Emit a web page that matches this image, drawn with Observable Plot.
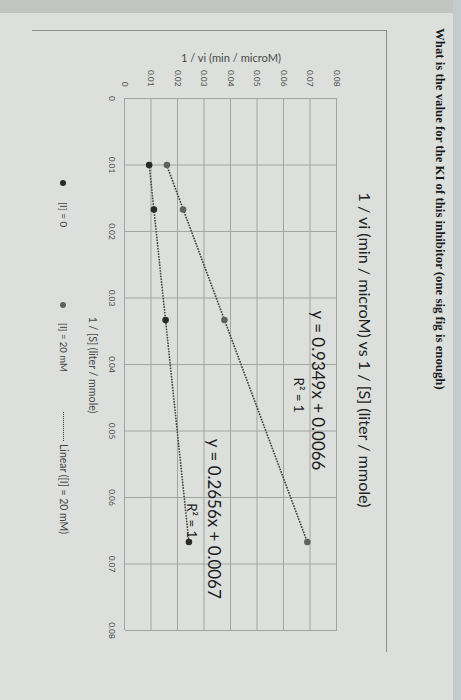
<!DOCTYPE html>
<html>
<head>
<meta charset="utf-8">
<script src="https://cdn.jsdelivr.net/npm/d3@7"></script>
<script src="https://cdn.jsdelivr.net/npm/@observablehq/plot@0.6"></script>
<style>
  html, body { margin: 0; padding: 0; width: 461px; height: 700px; overflow: hidden; background: #dcdfdc; }
  #page { position: absolute; left: 0; top: 0; width: 700px; height: 461px;
          transform-origin: 0 0; transform: translate(461px, 0) rotate(90deg);
          background: #dcdfdc; font-family: Lato, sans-serif; }
  .abs { position: absolute; white-space: nowrap; }
  #edgeL { left: 0; top: 0; width: 13px; height: 461px; background: #c2c4c2; }
  #edgeT { left: 0; top: 0; width: 700px; height: 8px; background: #c3cbcf; }
  #box { left: 30px; top: 74px; width: 621px; height: 354px; border-left: 1px solid #8f918f; border-top: 1px solid #8f918f; }
  #chart { left: 0; top: 0; }
</style>
</head>
<body>
<div id="page">
  <div id="edgeL" class="abs"></div>
  <div id="edgeT" class="abs"></div>
  <div id="box" class="abs"></div>
  <div id="chart" class="abs"></div>
  <div id="texts"></div>
</div>
<script>
// ---- data ----
const invS   = [0.01, 0.0167, 0.0333, 0.0667];          // 1/[S] (liter / mmole)
const invV0  = [0.0093, 0.0111, 0.0155, 0.0243];        // 1/vi, [I] = 0
const invV20 = [0.0160, 0.0221, 0.0377, 0.0690];        // 1/vi, [I] = 20 mM
const seriesNames  = ["[I] = 0", "[I] = 20 mM"];
const seriesColors = ["#2a2a2a", "#5f615f"];
const xTicks = [0, 0.01, 0.02, 0.03, 0.04, 0.05, 0.06, 0.07, 0.08];
const yTicks = [0, 0.01, 0.02, 0.03, 0.04, 0.05, 0.06, 0.07, 0.08];
const eqLabels = ["y = 0.9349x + 0.0066", "y = 0.2656x + 0.0067"];
const eqX = [0.0439, 0.0632];
const eqY = [0.0728, 0.0336];
const r2Labels = ["R\u00B2 = 1", "R\u00B2 = 1"];
const r2X = [0.0446, 0.0635];
const r2Y = [0.0657, 0.0253];
const legendLabels = ["[I] = 0", "[I] = 20 mM", "Linear ([I] = 20 mM)"];
const questionText = "What is the value for the KI of this inhibitor (one sig fig is enough)";
const chartTitle = "1 / vi (min / microM) vs 1 / [S] (liter / mmole)";
const xTitle = "1 / [S] (liter / mmole)";
const yTitle = "1 / vi (min / microM)";

const SANS = "Lato";
const fmt = d => d === 0 ? "0" : d.toFixed(2);

const rows = [];
invS.forEach((x, i) => rows.push({x, y: invV0[i], s: seriesNames[0]}));
invS.forEach((x, i) => rows.push({x, y: invV20[i], s: seriesNames[1]}));
const eqRows = eqLabels.map((t, i) => ({t, x: eqX[i], y: eqY[i]}));
const r2Rows = r2Labels.map((t, i) => ({t, x: r2X[i], y: r2Y[i]}));
const gridColor = "#a2a4a2";

const chart = Plot.plot({
  width: 700, height: 461,
  marginLeft: 98, marginRight: 70, marginTop: 124, marginBottom: 125,
  style: {background: "transparent", fontFamily: "Lato, sans-serif", fontSize: "9px", color: "#4a4a4a", overflow: "visible"},
  x: {domain: [0, 0.08], ticks: xTicks, tickFormat: fmt, tickSize: 0, tickPadding: 10, label: null},
  y: {domain: [0, 0.08], ticks: yTicks, tickFormat: fmt, tickSize: 0, tickPadding: 12, label: null},
  color: {domain: seriesNames, range: seriesColors},
  marks: [
    Plot.ruleX(xTicks, {stroke: gridColor, strokeWidth: 1}),
    Plot.ruleY(yTicks, {stroke: gridColor, strokeWidth: 1}),
    Plot.linearRegressionY(rows, {x: "x", y: "y", z: "s", stroke: "#464646", strokeWidth: 1.8, strokeLinecap: "round", strokeDasharray: "0.1 2.7", ci: 0}),
    Plot.dot(rows, {x: "x", y: "y", fill: "s", r: 3.3, stroke: null}),
    Plot.text(eqRows, {x: "x", y: "y", text: "t", fontSize: 16, fill: "#1c1c1c", fontFamily: "Lato, sans-serif"}),
    Plot.text(r2Rows, {x: "x", y: "y", text: "t", fontSize: 16, fill: "#1c1c1c", fontFamily: "Lato, sans-serif"})
  ]
});
document.getElementById("chart").appendChild(chart);

// scale SVG text so its rendered length matches the length seen in the picture
const allText = [...chart.querySelectorAll("text")];
function fitSvg(els, sample, target, base) {
  const ref = els.find(e => e.textContent === sample);
  if (!ref) return;
  const w = ref.getBBox().width;
  const s = base * target / w;
  els.forEach(e => { e.style.fontSize = s + "px"; });
}
const tickStrings = xTicks.map(fmt);
const tickEls = allText.filter(e => tickStrings.includes(e.textContent));
fitSvg(tickEls, "0.04", 16.5, 9);
fitSvg(allText.filter(e => eqLabels.includes(e.textContent)), eqLabels[0], 160, 16);
fitSvg(allText.filter(e => r2Labels.includes(e.textContent)), r2Labels[0], 35, 16);

// ---- texts around the chart (question, title, axis titles, legend) ----
const texts = document.getElementById("texts");
function addText(t, {u, v, family = SANS, weight = "normal", target, color = "#333", anchor = "start", rotate = 0}) {
  const d = document.createElement("div");
  d.className = "abs";
  d.textContent = t;
  d.style.fontFamily = family.includes(" ") ? `"${family}"` : family;
  d.style.fontWeight = weight;
  d.style.fontSize = "20px";
  d.style.color = color;
  d.style.left = u + "px";
  d.style.top = v + "px";
  texts.appendChild(d);
  const w = d.offsetWidth;
  const s = 20 * target / w;
  d.style.fontSize = s + "px";
  d.style.lineHeight = s + "px";
  const tx = anchor === "middle" ? "-50%" : "0";
  d.style.transform = rotate ? `translate(-50%, -50%) rotate(${rotate}deg)` : `translate(${tx}, -55%)`;
  return d;
}
addText(questionText, {u: 28, v: 22, family: "Liberation Serif", weight: "bold", target: 362, color: "#1a1a1a"});
addText(chartTitle, {u: 350, v: 97, target: 315, color: "#222", anchor: "middle"});
addText(xTitle, {u: 365, v: 369, target: 97, color: "#4a4a4a", anchor: "middle"});
addText(yTitle, {u: 58, v: 230, target: 100, color: "#4a4a4a", rotate: -90});

// legend
const legV = 398;
const legMarkU = [183, 305];
const legTextU = [202, 323, 444];
const legTarget = [25, 49, 90];
seriesColors.forEach((c, i) => {
  const d = document.createElement("div");
  d.className = "abs";
  Object.assign(d.style, {left: (legMarkU[i] - 3) + "px", top: (legV - 3) + "px", width: "6px", height: "6px", borderRadius: "50%", background: c});
  texts.appendChild(d);
});
const ln = document.createElement("div");
ln.className = "abs";
Object.assign(ln.style, {left: "412px", top: (legV - 1) + "px", width: "29px", height: "0px", borderTop: "1.5px dotted #3a3a3a"});
texts.appendChild(ln);
legendLabels.forEach((t, i) => addText(t, {u: legTextU[i], v: legV, target: legTarget[i], color: "#444"}));
</script>
</body>
</html>
